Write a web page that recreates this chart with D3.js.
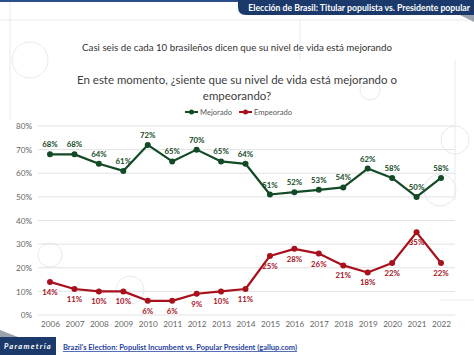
<!DOCTYPE html>
<html><head><meta charset="utf-8">
<script src="https://cdn.jsdelivr.net/npm/d3@7"></script>
<style>
html,body{margin:0;padding:0;background:#fff;}
svg{display:block;font-family:Lato,"Open Sans",sans-serif;}
</style></head>
<body><svg id="c" width="474" height="355"></svg>
<script>
const years = ["2006","2007","2008","2009","2010","2011","2012","2013","2014","2015","2016","2017","2018","2019","2020","2021","2022"];
const mejorado = [68,68,64,61,72,65,70,65,64,51,52,53,54,62,58,50,58];
const empeorado = [14,11,10,10,6,6,9,10,11,25,28,26,21,18,22,35,22];
const yTicks = [0,10,20,30,40,50,60,70,80];
const headerText = "Elección de Brasil: Titular populista vs. Presidente popular";
const subtitleText = "Casi seis de cada 10 brasileños dicen que su nivel de vida está mejorando";
const titleLines = ["En este momento, ¿siente que su nivel de vida está mejorando o","empeorando?"];
const seriesNames = ["Mejorado","Empeorado"];
const footerLink = "Brazil's Election: Populist Incumbent vs. Popular President (gallup.com)";

const green = "#134a26", red = "#a8101c";
const svg = d3.select("#c");

function fit(sel, w){
  const n = sel.node(); const bw = n.getComputedTextLength();
  if (bw > 0) sel.attr("font-size", parseFloat(sel.attr("font-size")) * w / bw);
  return sel;
}

// faint background watermark
const wm = svg.append("g").attr("stroke","#e6eaee").attr("fill","none").attr("stroke-width",1);
[[30,60,18],[455,140,14],[50,255,12],[440,190,16],[130,290,14],[370,90,10]].forEach(c=>{
  wm.append("circle").attr("cx",c[0]).attr("cy",c[1]).attr("r",c[2]);
});
[[0,20,474,20],[10,0,10,120],[455,60,455,200],[440,300,474,300],[300,20,300,60]].forEach(l=>{
  wm.append("line").attr("x1",l[0]).attr("y1",l[1]).attr("x2",l[2]).attr("y2",l[3]);
});

// top thin bar
svg.append("rect").attr("x",0).attr("y",0).attr("width",474).attr("height",2).attr("fill","#2a4f8a");
// header tab
svg.append("path").attr("d","M238,0 L474,0 L474,15 L246,15 Q238,15 238,7 Z").attr("fill","#1b3a6b");
svg.append("path").attr("d","M460,15 L474,15 L474,22 Z").attr("fill","#9aa3ad");
fit(svg.append("text").attr("x",470).attr("y",11).attr("text-anchor","end")
  .attr("font-size",9.6).attr("font-weight","bold").attr("fill","#fff").text(headerText), 222);

fit(svg.append("text").attr("x",237).attr("y",51).attr("text-anchor","middle")
  .attr("font-size",10.6).attr("fill","#333").text(subtitleText), 310);
const t0 = fit(svg.append("text").attr("x",237).attr("y",84).attr("text-anchor","middle")
    .attr("font-size",13.4).attr("fill","#404040").text(titleLines[0]), 320);
svg.append("text").attr("x",237).attr("y",100).attr("text-anchor","middle")
    .attr("font-size",t0.attr("font-size")).attr("fill","#404040").text(titleLines[1]);

// scales
const x = d3.scalePoint().domain(years).range([50,441]);
const y = d3.scaleLinear().domain([0,80]).range([315,126]);

// grid
svg.append("g").selectAll("line").data(yTicks).join("line")
  .attr("x1",38).attr("x2",455).attr("y1",d=>y(d)).attr("y2",d=>y(d))
  .attr("stroke","#e2e2e2").attr("stroke-width",1);

// y axis
const ya = svg.append("g").attr("transform","translate(36,0)")
  .call(d3.axisLeft(y).tickValues(yTicks).tickFormat(d=>d+"%").tickSize(0).tickPadding(4));
ya.select(".domain").remove();
ya.selectAll("text").attr("font-size",8.2).attr("fill","#666").attr("font-family","Lato,'Open Sans',sans-serif");

// x axis
const xa = svg.append("g").attr("transform","translate(0,320)")
  .call(d3.axisBottom(x).tickSize(0).tickPadding(1));
xa.select(".domain").remove();
xa.selectAll("text").attr("font-size",8.2).attr("fill","#666").attr("font-family","Lato,'Open Sans',sans-serif");

const line = d3.line().x((d,i)=>x(years[i])).y(d=>y(d));
function drawSeries(vals,color,dy){
  svg.append("path").datum(vals).attr("d",line).attr("fill","none")
    .attr("stroke",color).attr("stroke-width",2.2).attr("stroke-linejoin","round");
  svg.append("g").selectAll("circle").data(vals).join("circle")
    .attr("cx",(d,i)=>x(years[i])).attr("cy",d=>y(d)).attr("r",3).attr("fill",color);
  svg.append("g").selectAll("text").data(vals).join("text")
    .attr("x",(d,i)=>x(years[i])).attr("y",d=>y(d)+dy).attr("text-anchor","middle")
    .attr("font-size",7.8).attr("font-weight","bold").attr("fill",color).text(d=>d+"%");
}
drawSeries(mejorado,green,-7);
drawSeries(empeorado,red,13);

// legend
const lg = svg.append("g");
[[185,green,seriesNames[0]],[239,red,seriesNames[1]]].forEach(([lx,c,t])=>{
  lg.append("line").attr("x1",lx).attr("x2",lx+13).attr("y1",112).attr("y2",112).attr("stroke",c).attr("stroke-width",2);
  lg.append("circle").attr("cx",lx+6.5).attr("cy",112).attr("r",2.5).attr("fill",c);
  lg.append("text").attr("x",lx+15).attr("y",115).attr("font-size",7.6).attr("fill","#595959").text(t);
});

// footer
svg.append("path").attr("d","M0,330 L18,337 L0,337 Z").attr("fill","#9aa3ad");
svg.append("rect").attr("x",0).attr("y",337).attr("width",56).attr("height",18).attr("fill","#1b3a6b");
svg.append("text").attr("x",28).attr("y",349).attr("text-anchor","middle")
  .attr("font-size",7.5).attr("font-weight","bold").attr("font-style","italic")
  .attr("letter-spacing",1.3).attr("fill","#fff").text("Parametría");
fit(svg.append("text").attr("x",63).attr("y",350).attr("font-size",8.6).attr("font-weight","bold")
  .attr("fill","#1f3fa0").attr("text-decoration","underline").text(footerLink), 234);
</script></body></html>
